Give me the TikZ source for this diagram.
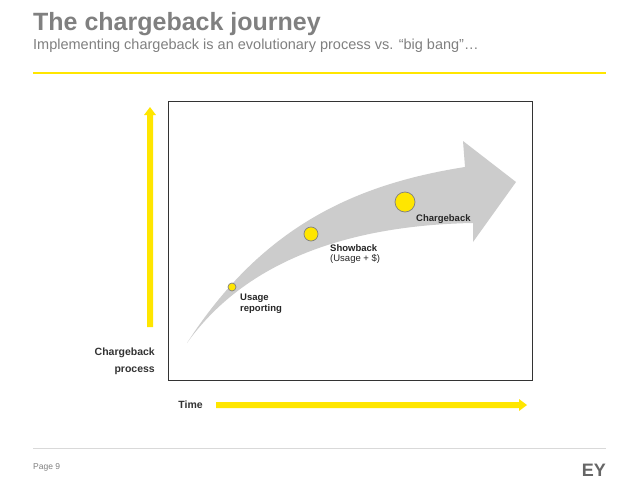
\documentclass[tikz,border=0pt]{standalone}
\usepackage{fontspec}
\setmainfont{Liberation Sans}
\begin{document}
\begin{tikzpicture}[x=1pt,y=-1pt]
\definecolor{eyy}{RGB}{255,230,0}
\definecolor{tg}{RGB}{128,128,128}
\tikzset{lbl/.style={anchor=north west,inner sep=0pt,font=\fontsize{9.5}{11}\selectfont\bfseries,align=left,text=black!85}}
\useasboundingbox (0,0) rectangle (638,493);
\fill[white] (0,0) rectangle (638,493);
\node[anchor=west,inner sep=0pt,text=tg,font=\fontsize{25}{27}\selectfont\bfseries] (title) at (33,24) {The chargeback journey};
\node[anchor=west,inner sep=0pt,text=tg,font=\fontsize{14.5}{16}\selectfont] (sub) at (33,46) {Implementing chargeback is an evolutionary process vs. “big bang”…};
\fill[eyy] (33,72.2) rectangle (606,74);
\draw[gray!30,line width=0.6pt] (33,448) -- (606,448);
\node[anchor=west,inner sep=0pt,text=tg,font=\fontsize{8.5}{10}\selectfont] (pg) at (33,467) {Page 9};
\node[anchor=east,inner sep=0pt,text=gray!80!black,font=\fontsize{18}{19}\selectfont\bfseries] (ey) at (606,470) {EY};
\draw[black!80,line width=1pt] (168,101) rectangle (532,380);
\fill[gray!40] (187,343) .. controls (260,230) and (350,185) .. (465,167) -- (463,141) -- (516,182) -- (473,242) -- (473,223) .. controls (360,225) and (250,255) .. (187,343) -- cycle;
\fill[eyy] (147,327) -- (147,115) -- (144,115) -- (150,107) -- (156,115) -- (153,115) -- (153,327) -- cycle;
\fill[eyy] (216,402) -- (519,402) -- (519,399) -- (527,405) -- (519,411) -- (519,408) -- (216,408) -- cycle;
\node[anchor=east,inner sep=0pt,align=right,font=\fontsize{10.5}{17}\selectfont\bfseries,text=black!80] (yl) at (155,361) {Chargeback\\process};
\node[anchor=east,inner sep=0pt,font=\fontsize{10.5}{12}\selectfont\bfseries,text=black!80] (xl) at (203,405) {Time};
\foreach \n/\x/\y/\r in {c1/232/287/4,c2/311/234/7,c3/405/202/10}
  \draw[fill=eyy,draw=gray,line width=0.7pt] (\x,\y) circle (\r);
\node[lbl] (t1) at (240,294) {Usage\\reporting};
\node[lbl] (t2) at (330,244) {Showback\\[-1pt]{\mdseries (Usage + \$)}};
\node[lbl] (t3) at (416,214) {Chargeback};
\end{tikzpicture}
\end{document}
